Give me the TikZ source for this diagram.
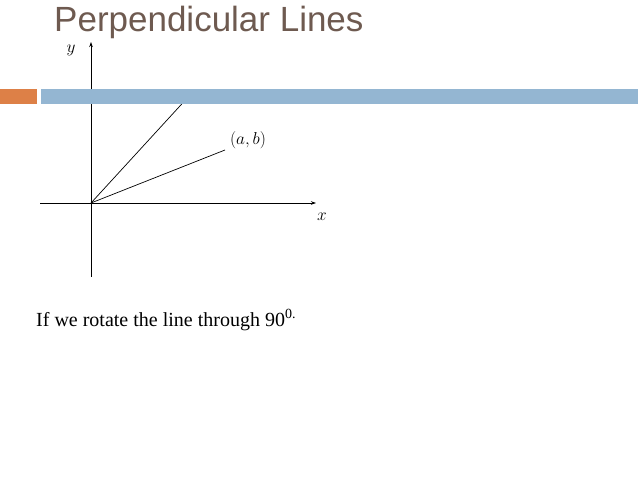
\documentclass[tikz,border=0pt]{standalone}
\usetikzlibrary{arrows.meta}
\usepackage{fontspec}
\setmainfont{Liberation Serif}
\newfontfamily\titlefont{Liberation Sans}
\definecolor{titlec}{HTML}{6E5A50}
\definecolor{barblue}{HTML}{94B6D2}
\definecolor{barorange}{HTML}{DD8047}
\begin{document}
\begin{tikzpicture}[x=1pt,y=-1pt,
  axis/.style={line width=0.8pt,-{Stealth[length=5pt,width=3.5pt]}},
  seg/.style={line width=0.7pt},
  mathlbl/.style={font=\fontsize{19}{22}\selectfont, inner sep=0pt}]
\useasboundingbox (0,0) rectangle (638,478);
\node[anchor=west, text=titlec, font=\titlefont\fontsize{35}{40}\selectfont, inner sep=0pt] (title) at (54,22) {Perpendicular Lines};
\coordinate (O) at (91,203);
\coordinate (yb) at (91,277);
\coordinate (yt) at (91,42);
\coordinate (xl) at (40,203);
\coordinate (xr) at (316,203);
\coordinate (P) at (190,95);
\coordinate (Q) at (225,150);
\draw[axis] (yb) -- (yt);
\draw[axis] (xl) -- (xr);
\draw[seg] (O) -- (P);
\draw[seg] (O) -- (Q);
\fill[barorange] (0,89) rectangle (37,104);
\fill[barblue] (41,89) rectangle (638,104);
\node[mathlbl] (ab) at (248,140) {$(a,b)$};
\node[mathlbl] (xlab) at (322,217) {$x$};
\node[mathlbl] (ylab) at (71,50) {$y$};
\node[anchor=west, inner sep=0pt, font=\fontsize{20}{24}\selectfont] (txt) at (36,320) {If we rotate the line through 90\textsuperscript{0.}};
\end{tikzpicture}
\end{document}
